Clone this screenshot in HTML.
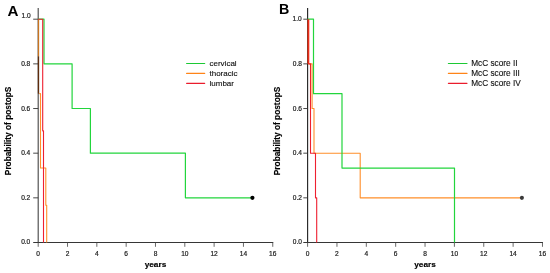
<!DOCTYPE html>
<html><head><meta charset="utf-8"><title>Figure</title>
<style>html,body{margin:0;padding:0;background:#fff}svg{display:block}</style></head>
<body>
<svg width="550" height="273" viewBox="0 0 550 273" font-family="'Liberation Sans', Arial, sans-serif">
<rect width="550" height="273" fill="#fff"/>
<path d="M38.2 7.9V242.5" stroke="#4c4c4c" stroke-width="1.15" fill="none"/>
<path d="M33.2 242.5H273.26" stroke="#363636" stroke-width="1.15" fill="none"/>
<path d="M33.2 197.84H38.2" stroke="#363636" stroke-width="0.9" fill="none"/>
<path d="M33.2 153.18H38.2" stroke="#363636" stroke-width="0.9" fill="none"/>
<path d="M33.2 108.52H38.2" stroke="#363636" stroke-width="0.9" fill="none"/>
<path d="M33.2 63.86H38.2" stroke="#363636" stroke-width="0.9" fill="none"/>
<path d="M33.2 19.2H38.2" stroke="#363636" stroke-width="0.9" fill="none"/>
<text x="30.3" y="243.60" text-anchor="end" font-size="6.6" fill="#1c1c1c" stroke="#1c1c1c" stroke-width="0.2">0.0</text>
<text x="30.3" y="200.14" text-anchor="end" font-size="6.6" fill="#1c1c1c" stroke="#1c1c1c" stroke-width="0.2">0.2</text>
<text x="30.3" y="155.48" text-anchor="end" font-size="6.6" fill="#1c1c1c" stroke="#1c1c1c" stroke-width="0.2">0.4</text>
<text x="30.3" y="110.82" text-anchor="end" font-size="6.6" fill="#1c1c1c" stroke="#1c1c1c" stroke-width="0.2">0.6</text>
<text x="30.3" y="66.16" text-anchor="end" font-size="6.6" fill="#1c1c1c" stroke="#1c1c1c" stroke-width="0.2">0.8</text>
<text x="30.650000000000002" y="18.15" text-anchor="end" font-size="6.6" fill="#1c1c1c" stroke="#1c1c1c" stroke-width="0.2">1.0</text>
<path d="M38.2 242.5V246.8" stroke="#444" stroke-width="0.8" fill="none"/>
<text x="38.2" y="256.3" text-anchor="middle" font-size="6.6" fill="#1c1c1c" stroke="#1c1c1c" stroke-width="0.2">0</text>
<path d="M67.52 242.5V246.8" stroke="#444" stroke-width="0.8" fill="none"/>
<text x="67.52" y="256.3" text-anchor="middle" font-size="6.6" fill="#1c1c1c" stroke="#1c1c1c" stroke-width="0.2">2</text>
<path d="M96.84 242.5V246.8" stroke="#444" stroke-width="0.8" fill="none"/>
<text x="96.84" y="256.3" text-anchor="middle" font-size="6.6" fill="#1c1c1c" stroke="#1c1c1c" stroke-width="0.2">4</text>
<path d="M126.16 242.5V246.8" stroke="#444" stroke-width="0.8" fill="none"/>
<text x="126.16" y="256.3" text-anchor="middle" font-size="6.6" fill="#1c1c1c" stroke="#1c1c1c" stroke-width="0.2">6</text>
<path d="M155.48 242.5V246.8" stroke="#444" stroke-width="0.8" fill="none"/>
<text x="155.48" y="256.3" text-anchor="middle" font-size="6.6" fill="#1c1c1c" stroke="#1c1c1c" stroke-width="0.2">8</text>
<path d="M184.8 242.5V246.8" stroke="#444" stroke-width="0.8" fill="none"/>
<text x="184.8" y="256.3" text-anchor="middle" font-size="6.6" fill="#1c1c1c" stroke="#1c1c1c" stroke-width="0.2">10</text>
<path d="M214.12 242.5V246.8" stroke="#444" stroke-width="0.8" fill="none"/>
<text x="214.12" y="256.3" text-anchor="middle" font-size="6.6" fill="#1c1c1c" stroke="#1c1c1c" stroke-width="0.2">12</text>
<path d="M243.44 242.5V246.8" stroke="#444" stroke-width="0.8" fill="none"/>
<text x="243.44" y="256.3" text-anchor="middle" font-size="6.6" fill="#1c1c1c" stroke="#1c1c1c" stroke-width="0.2">14</text>
<path d="M272.76 242.5V246.8" stroke="#444" stroke-width="0.8" fill="none"/>
<text x="272.76" y="256.3" text-anchor="middle" font-size="6.6" fill="#1c1c1c" stroke="#1c1c1c" stroke-width="0.2">16</text>
<text transform="translate(155.48 267.2) scale(1.01 0.94)" text-anchor="middle" font-size="8.2" font-weight="bold" fill="#000" stroke="#000" stroke-width="0.15">years</text>
<text transform="translate(10.70 130.90) rotate(-90)" text-anchor="middle" font-size="8.3" font-weight="bold" fill="#000" stroke="#000" stroke-width="0.15">Probability of postopS</text>
<text transform="translate(7.6 16.2) scale(1.0 1)" font-size="15.2" font-weight="bold" fill="#000">A</text>
<path d="M38.2 19.2H44V63.86H72.1V108.52H90.4V153.18H185.4V197.84H252.4" stroke="#22d53c" stroke-width="1.2" fill="none" stroke-linejoin="round"/>
<path d="M38.5 19.2V56.5" stroke="#c9741f" stroke-width="1.3" fill="none"/>
<path d="M38.5 56.5V93.63" stroke="#5e2c0c" stroke-width="1.3" fill="none"/>
<path d="M39.3 93.63H40.5V168.07H45.8V205.28H46.7V242.5" stroke="#ff8f2a" stroke-width="1.1" fill="none" stroke-linejoin="round"/>
<path d="M38.2 19.2H42.7V130.85H43.5V242.5" stroke="#ee2030" stroke-width="1.1" fill="none" stroke-linejoin="round"/>
<circle cx="252.4" cy="197.84" r="2.1" fill="#000"/>
<path d="M186.6 63.50H204.7" stroke="#1cc934" stroke-width="1.15" stroke-linecap="round" fill="none"/>
<text x="209.5" y="66.10" font-size="8.0" fill="#111" stroke="#111" stroke-width="0.12">cervical</text>
<path d="M186.6 73.40H204.7" stroke="#ff8418" stroke-width="1.15" stroke-linecap="round" fill="none"/>
<text x="209.5" y="76.00" font-size="8.0" fill="#111" stroke="#111" stroke-width="0.12">thoracic</text>
<path d="M186.6 83.30H204.7" stroke="#ea1c2c" stroke-width="1.15" stroke-linecap="round" fill="none"/>
<text x="209.5" y="85.90" font-size="8.0" fill="#111" stroke="#111" stroke-width="0.12">lumbar</text>
<path d="M307.6 7.9V242.5" stroke="#262626" stroke-width="1.15" fill="none"/>
<path d="M303.3 242.5H542.98" stroke="#363636" stroke-width="1.15" fill="none"/>
<path d="M303.3 197.84H307.6" stroke="#363636" stroke-width="0.9" fill="none"/>
<path d="M303.3 153.18H307.6" stroke="#363636" stroke-width="0.9" fill="none"/>
<path d="M303.3 108.52H307.6" stroke="#363636" stroke-width="0.9" fill="none"/>
<path d="M303.3 63.86H307.6" stroke="#363636" stroke-width="0.9" fill="none"/>
<path d="M303.3 19.2H307.6" stroke="#363636" stroke-width="0.9" fill="none"/>
<text x="301.9" y="243.60" text-anchor="end" font-size="6.6" fill="#1c1c1c" stroke="#1c1c1c" stroke-width="0.2">0.0</text>
<text x="301.9" y="200.14" text-anchor="end" font-size="6.6" fill="#1c1c1c" stroke="#1c1c1c" stroke-width="0.2">0.2</text>
<text x="301.9" y="155.48" text-anchor="end" font-size="6.6" fill="#1c1c1c" stroke="#1c1c1c" stroke-width="0.2">0.4</text>
<text x="301.9" y="110.82" text-anchor="end" font-size="6.6" fill="#1c1c1c" stroke="#1c1c1c" stroke-width="0.2">0.6</text>
<text x="301.9" y="66.16" text-anchor="end" font-size="6.6" fill="#1c1c1c" stroke="#1c1c1c" stroke-width="0.2">0.8</text>
<text x="301.7" y="20.50" text-anchor="end" font-size="6.6" fill="#1c1c1c" stroke="#1c1c1c" stroke-width="0.2">1.0</text>
<path d="M307.6 242.5V246.8" stroke="#444" stroke-width="0.8" fill="none"/>
<text x="307.6" y="256.3" text-anchor="middle" font-size="6.6" fill="#1c1c1c" stroke="#1c1c1c" stroke-width="0.2">0</text>
<path d="M336.96 242.5V246.8" stroke="#444" stroke-width="0.8" fill="none"/>
<text x="336.96" y="256.3" text-anchor="middle" font-size="6.6" fill="#1c1c1c" stroke="#1c1c1c" stroke-width="0.2">2</text>
<path d="M366.32 242.5V246.8" stroke="#444" stroke-width="0.8" fill="none"/>
<text x="366.32" y="256.3" text-anchor="middle" font-size="6.6" fill="#1c1c1c" stroke="#1c1c1c" stroke-width="0.2">4</text>
<path d="M395.68 242.5V246.8" stroke="#444" stroke-width="0.8" fill="none"/>
<text x="395.68" y="256.3" text-anchor="middle" font-size="6.6" fill="#1c1c1c" stroke="#1c1c1c" stroke-width="0.2">6</text>
<path d="M425.04 242.5V246.8" stroke="#444" stroke-width="0.8" fill="none"/>
<text x="425.04" y="256.3" text-anchor="middle" font-size="6.6" fill="#1c1c1c" stroke="#1c1c1c" stroke-width="0.2">8</text>
<path d="M454.4 242.5V246.8" stroke="#444" stroke-width="0.8" fill="none"/>
<text x="454.4" y="256.3" text-anchor="middle" font-size="6.6" fill="#1c1c1c" stroke="#1c1c1c" stroke-width="0.2">10</text>
<path d="M483.76 242.5V246.8" stroke="#444" stroke-width="0.8" fill="none"/>
<text x="483.76" y="256.3" text-anchor="middle" font-size="6.6" fill="#1c1c1c" stroke="#1c1c1c" stroke-width="0.2">12</text>
<path d="M513.12 242.5V246.8" stroke="#444" stroke-width="0.8" fill="none"/>
<text x="513.12" y="256.3" text-anchor="middle" font-size="6.6" fill="#1c1c1c" stroke="#1c1c1c" stroke-width="0.2">14</text>
<path d="M542.48 242.5V246.8" stroke="#444" stroke-width="0.8" fill="none"/>
<text x="542.48" y="256.3" text-anchor="middle" font-size="6.6" fill="#1c1c1c" stroke="#1c1c1c" stroke-width="0.2">16</text>
<text transform="translate(425.04 267.2) scale(1.01 0.94)" text-anchor="middle" font-size="8.2" font-weight="bold" fill="#000" stroke="#000" stroke-width="0.15">years</text>
<text transform="translate(279.50 130.95) rotate(-90)" text-anchor="middle" font-size="8.3" font-weight="bold" fill="#000" stroke="#000" stroke-width="0.15">Probability of postopS</text>
<text transform="translate(279.0 14.4) scale(0.94 1)" font-size="15.2" font-weight="bold" fill="#000">B</text>
<path d="M308.4 19.2V63.86H312.1V108.52H314V153.18H360.2V197.84H521.9" stroke="#ff8f2a" stroke-width="1.1" fill="none" stroke-linejoin="round"/>
<path d="M307.6 19.2H313.5V93.63H342V168.07H454.5V242.5" stroke="#22d53c" stroke-width="1.2" fill="none" stroke-linejoin="round"/>
<path d="M308.4 19.2V63.86" stroke="#ee2c18" stroke-width="1.8" fill="none"/>
<path d="M308.4 63.86H310.5V153.18H315.5V197.84H316.7V242.5" stroke="#ee2030" stroke-width="1.1" fill="none" stroke-linejoin="round"/>
<circle cx="521.9" cy="197.84" r="2.05" fill="#3a3a3a"/>
<path d="M448.4 63.50H467" stroke="#1cc934" stroke-width="1.15" stroke-linecap="round" fill="none"/>
<text x="471.2" y="66.30" font-size="8.25" fill="#111" stroke="#111" stroke-width="0.12">McC score II</text>
<path d="M448.4 73.40H467" stroke="#ff8418" stroke-width="1.15" stroke-linecap="round" fill="none"/>
<text x="471.2" y="76.20" font-size="8.25" fill="#111" stroke="#111" stroke-width="0.12">McC score III</text>
<path d="M448.4 83.30H467" stroke="#ea1c2c" stroke-width="1.15" stroke-linecap="round" fill="none"/>
<text x="471.2" y="86.10" font-size="8.25" fill="#111" stroke="#111" stroke-width="0.12">McC score IV</text>
</svg>
</body></html>
